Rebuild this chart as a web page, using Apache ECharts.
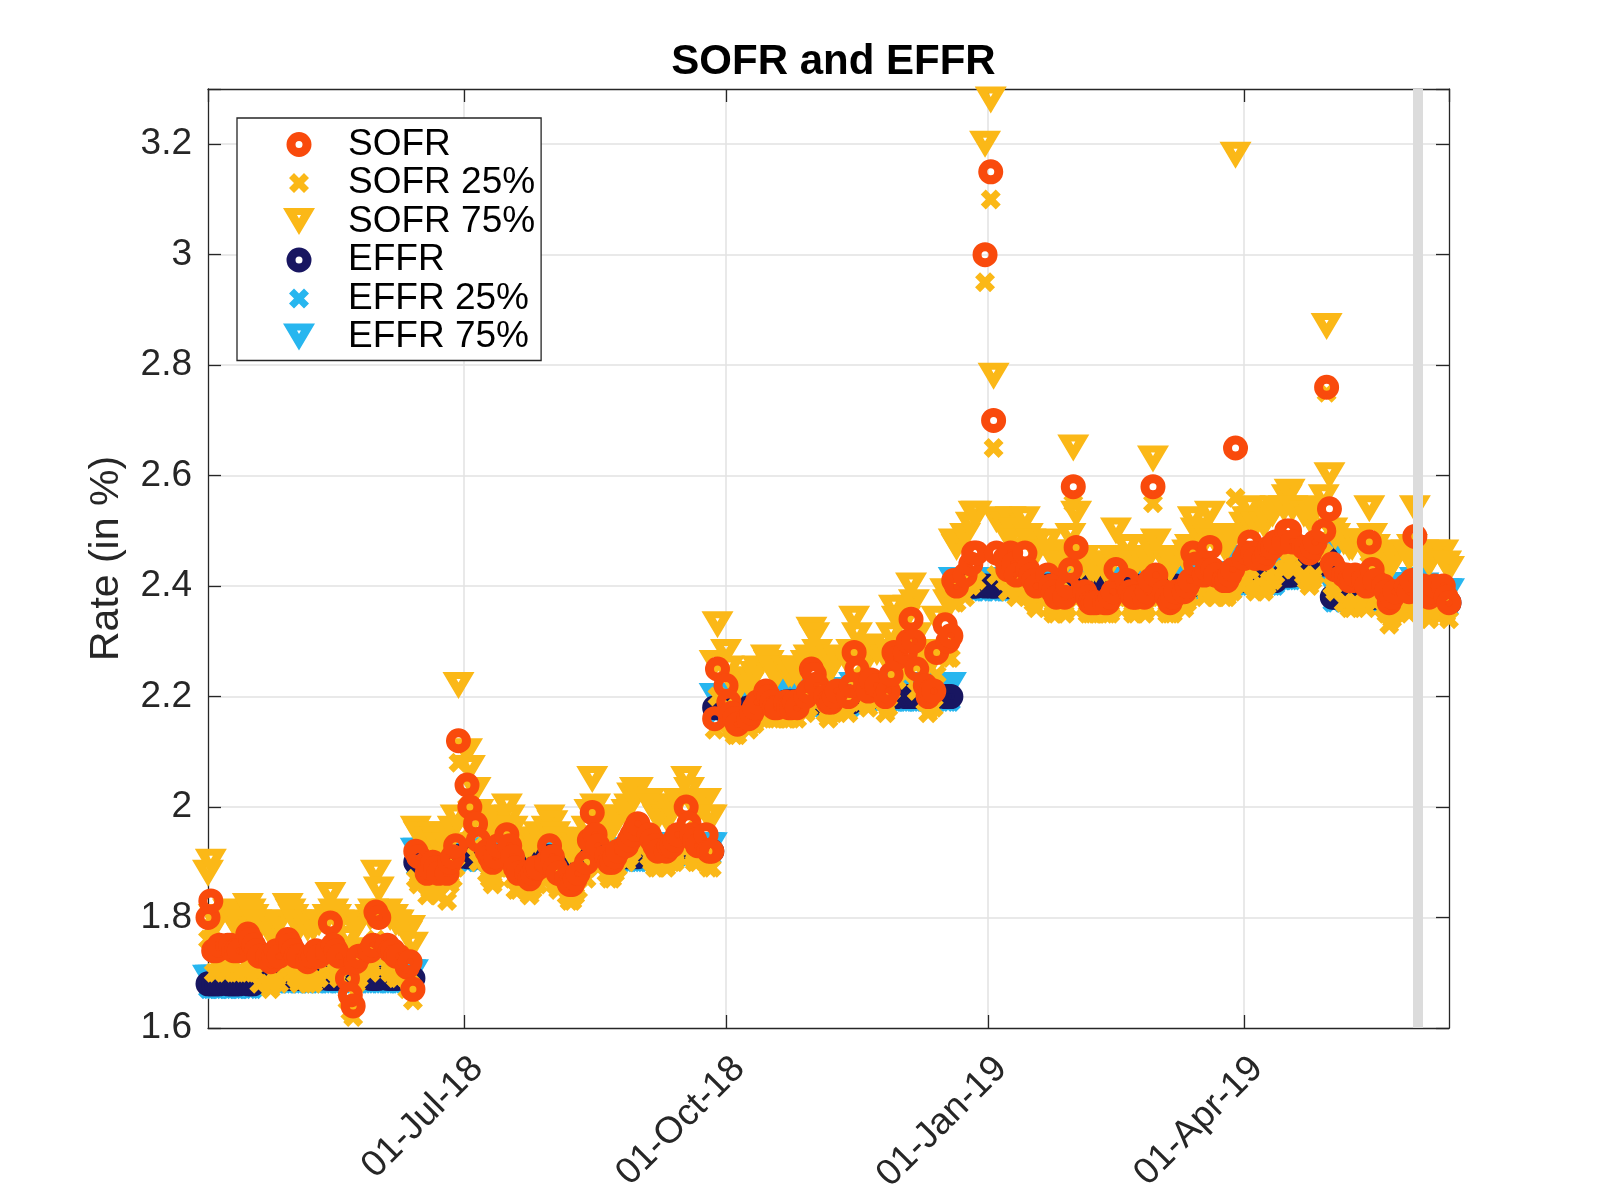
<!DOCTYPE html>
<html>
<head>
<meta charset="utf-8">
<script src="https://cdn.jsdelivr.net/npm/echarts@6/dist/echarts.min.js"></script>
<style>
html,body{margin:0;padding:0;background:#fff;}
#chart{width:1600px;height:1200px;}
</style>
</head>
<body>
<div id="chart"></div>
<script>
// ---- calendar (business days, one block per month) ----
const months = ['2018-04','2018-05','2018-06','2018-07','2018-08','2018-09','2018-10','2018-11','2018-12','2019-01','2019-02','2019-03','2019-04','2019-05','2019-06'];
const firstDate = '2018-04-02';
const lastDate = '2019-06-12';
const holidays = ['2018-05-28','2018-07-04','2018-09-03','2018-10-08','2018-11-12','2018-11-22','2018-12-25','2019-01-01','2019-01-21','2019-02-18','2019-04-19','2019-05-27'];
const markerDate = '2019-06-01';
const tickMonths = ['Jan','Feb','Mar','Apr','May','Jun','Jul','Aug','Sep','Oct','Nov','Dec'];

// ---- series values (percent), one sub-array per month ----
const sofr = [
 [1.80,1.83,1.74,1.74,1.75, 1.75,1.75,1.74,1.74,1.74, 1.77,1.76,1.75,1.74,1.73, 1.73,1.72,1.73,1.74,1.73, 1.76],
 [1.75,1.74,1.73,1.73, 1.72,1.73,1.73,1.74,1.73, 1.74,1.79,1.75,1.74,1.73, 1.69,1.66,1.64,1.72,1.73, 1.74,1.75,1.81],
 [1.80, 1.75,1.74,1.74,1.73,1.73, 1.71,1.72,1.67,1.92,1.91, 1.88,1.89,1.90,1.89,1.88, 1.88,1.90,1.91,1.93,2.12],
 [2.04,2.00,1.97,1.94, 1.92,1.91,1.90,1.91,1.93, 1.95,1.93,1.91,1.89,1.88, 1.88,1.87,1.88,1.89,1.89, 1.90,1.93],
 [1.91,1.89,1.88, 1.87,1.86,1.86,1.87,1.88, 1.90,1.94,1.99,1.95,1.93, 1.91,1.90,1.90,1.91,1.92, 1.93,1.94,1.95,1.96,1.97],
 [1.95,1.94,1.93,1.92, 1.92,1.93,1.93,1.94,1.95, 2.00,1.97,1.95,1.94,1.93, 1.95,1.92,1.92,2.16,2.25],
 [2.22,2.19,2.17,2.16,2.15, 2.16,2.17,2.18,2.19, 2.21,2.20,2.19,2.18,2.18, 2.19,2.18,2.18,2.19,2.18, 2.20,2.21,2.25],
 [2.24,2.22, 2.20,2.19,2.19,2.20,2.21, 2.20,2.22,2.28,2.25, 2.22,2.21,2.23,2.22, 2.20,2.21,2.24,2.28,2.27],
 [2.28,2.30,2.34,2.30,2.25, 2.22,2.20,2.21,2.21,2.28, 2.33,2.30,2.31,2.41,2.40, 2.42,2.44,2.46,2.46, 3.00],
 [3.15,2.70,2.46, 2.45,2.43,2.46,2.44,2.42, 2.46,2.43,2.42,2.41,2.40, 2.42,2.40,2.39,2.38, 2.38,2.40,2.43,2.58],
 [2.47, 2.39,2.38,2.37,2.37,2.37, 2.37,2.37,2.38,2.39,2.43, 2.41,2.39,2.38,2.38, 2.38,2.39,2.41,2.58],
 [2.42, 2.39,2.38,2.37,2.38,2.39, 2.39,2.40,2.41,2.46,2.44, 2.42,2.43,2.47,2.43,2.42, 2.41,2.41,2.42,2.43,2.65],
 [2.45,2.46,2.48,2.46,2.45, 2.45,2.46,2.47,2.47,2.48, 2.48,2.50,2.50,2.48, 2.47,2.47,2.46,2.47,2.48, 2.50,2.76],
 [2.54,2.44,2.43, 2.42,2.42,2.41,2.41,2.42, 2.41,2.40,2.48,2.43,2.41, 2.40,2.39,2.37,2.38,2.39, 2.40,2.39,2.41,2.49],
 [2.40,2.39,2.38,2.39,2.40, 2.40,2.38,2.37]
];
const sofr25 = [
 [1.76,1.78,1.70,1.70,1.71, 1.71,1.71,1.70,1.70,1.70, 1.72,1.71,1.70,1.70,1.68, 1.68,1.67,1.68,1.69,1.68, 1.71],
 [1.71,1.70,1.69,1.68, 1.68,1.69,1.68,1.69,1.69, 1.70,1.74,1.71,1.70,1.69, 1.65,1.63,1.62,1.68,1.69, 1.70,1.71,1.76],
 [1.75, 1.71,1.70,1.70,1.69,1.69, 1.67,1.68,1.65,1.87,1.86, 1.84,1.85,1.86,1.85,1.84, 1.83,1.86,1.87,1.89,2.08],
 [2.00,1.96,1.93,1.90, 1.88,1.87,1.86,1.87,1.89, 1.91,1.89,1.87,1.85,1.85, 1.85,1.84,1.85,1.86,1.86, 1.87,1.89],
 [1.87,1.86,1.85, 1.84,1.83,1.83,1.84,1.85, 1.87,1.90,1.95,1.91,1.89, 1.88,1.87,1.87,1.88,1.89, 1.90,1.91,1.92,1.93,1.93],
 [1.91,1.90,1.89,1.89, 1.89,1.90,1.90,1.90,1.91, 1.96,1.93,1.91,1.90,1.90, 1.91,1.89,1.89,2.14,2.20],
 [2.18,2.15,2.14,2.13,2.13, 2.14,2.15,2.15,2.16, 2.18,2.17,2.16,2.16,2.16, 2.16,2.16,2.16,2.17,2.16, 2.17,2.18,2.21],
 [2.21,2.19, 2.17,2.16,2.17,2.17,2.18, 2.17,2.19,2.24,2.22, 2.19,2.18,2.20,2.19, 2.17,2.18,2.21,2.24,2.23],
 [2.24,2.26,2.30,2.26,2.21, 2.19,2.17,2.18,2.18,2.24, 2.29,2.27,2.27,2.37,2.37, 2.38,2.40,2.41,2.41, 2.95],
 [3.10,2.65,2.42, 2.41,2.39,2.42,2.40,2.38, 2.41,2.39,2.38,2.37,2.36, 2.38,2.36,2.35,2.35, 2.35,2.36,2.39,2.55],
 [2.43, 2.36,2.35,2.35,2.35,2.35, 2.35,2.35,2.35,2.36,2.39, 2.38,2.36,2.35,2.35, 2.35,2.36,2.38,2.55],
 [2.39, 2.36,2.35,2.35,2.35,2.36, 2.36,2.37,2.38,2.42,2.40, 2.38,2.39,2.43,2.39,2.38, 2.38,2.38,2.39,2.39,2.56],
 [2.40,2.41,2.43,2.40,2.39, 2.39,2.40,2.41,2.41,2.42, 2.43,2.45,2.46,2.43, 2.42,2.41,2.40,2.41,2.42, 2.46,2.75],
 [2.50,2.40,2.39, 2.37,2.37,2.36,2.36,2.37, 2.37,2.36,2.44,2.39,2.37, 2.36,2.35,2.33,2.34,2.35, 2.36,2.35,2.37,2.45],
 [2.36,2.35,2.34,2.35,2.36, 2.36,2.35,2.34]
];
const sofr75 = [
 [1.88,1.90,1.80,1.79,1.80, 1.81,1.80,1.79,1.79,1.79, 1.82,1.81,1.80,1.79,1.78, 1.78,1.77,1.78,1.79,1.79, 1.82],
 [1.81,1.80,1.79,1.78, 1.78,1.79,1.78,1.79,1.79, 1.80,1.84,1.81,1.80,1.79, 1.76,1.74,1.73,1.78,1.79, 1.80,1.81,1.88],
 [1.85, 1.81,1.80,1.80,1.79,1.79, 1.77,1.78,1.75,1.96,1.95, 1.93,1.94,1.95,1.94,1.93, 1.93,1.95,1.96,1.98,2.22],
 [2.10,2.07,2.03,1.99, 1.97,1.96,1.95,1.96,1.98, 2.00,1.98,1.96,1.94,1.93, 1.93,1.93,1.94,1.94,1.95, 1.96,1.98],
 [1.97,1.95,1.94, 1.93,1.92,1.92,1.93,1.94, 1.96,1.99,2.05,2.00,1.98, 1.97,1.96,1.96,1.97,1.98, 1.99,2.00,2.02,2.03,2.03],
 [2.01,2.00,1.99,1.98, 1.98,1.99,1.99,2.00,2.01, 2.05,2.03,2.01,2.00,1.99, 2.01,1.98,1.98,2.26,2.33],
 [2.28,2.25,2.23,2.22,2.21, 2.22,2.23,2.24,2.25, 2.27,2.26,2.25,2.24,2.24, 2.25,2.24,2.24,2.25,2.24, 2.26,2.27,2.32],
 [2.31,2.28, 2.26,2.25,2.25,2.26,2.27, 2.26,2.28,2.34,2.31, 2.28,2.27,2.29,2.28, 2.27,2.28,2.31,2.36,2.34],
 [2.34,2.36,2.40,2.37,2.31, 2.28,2.26,2.27,2.27,2.34, 2.39,2.37,2.37,2.48,2.47, 2.49,2.51,2.53,2.53, 3.20],
 [3.28,2.78,2.52, 2.51,2.49,2.52,2.50,2.48, 2.52,2.49,2.48,2.47,2.46, 2.48,2.46,2.45,2.44, 2.44,2.46,2.49,2.65],
 [2.53, 2.45,2.44,2.43,2.43,2.43, 2.43,2.43,2.44,2.45,2.50, 2.47,2.45,2.44,2.44, 2.44,2.45,2.47,2.63],
 [2.48, 2.45,2.44,2.43,2.44,2.45, 2.45,2.46,2.47,2.52,2.50, 2.48,2.49,2.53,2.49,2.48, 2.47,2.47,2.48,2.49,3.18],
 [2.51,2.52,2.54,2.52,2.51, 2.51,2.52,2.53,2.53,2.54, 2.54,2.56,2.57,2.54, 2.53,2.53,2.52,2.53,2.54, 2.56,2.87],
 [2.60,2.50,2.49, 2.48,2.48,2.47,2.47,2.48, 2.47,2.46,2.54,2.49,2.47, 2.46,2.45,2.43,2.44,2.45, 2.46,2.45,2.47,2.54],
 [2.46,2.45,2.44,2.45,2.46, 2.46,2.44,2.43]
];
const effr = [
 [1.68,1.68,1.68,1.68,1.68, 1.68,1.68,1.68,1.68,1.68, 1.68,1.68,1.68,1.69,1.69, 1.69,1.69,1.69,1.69,1.69, 1.69],
 [1.69,1.69,1.69,1.69, 1.69,1.69,1.69,1.69,1.69, 1.69,1.69,1.69,1.69,1.69, 1.69,1.69,1.69,1.69,1.69, 1.69,1.69,1.69],
 [1.69, 1.69,1.69,1.69,1.69,1.69, 1.69,1.69,1.69,1.90,1.90, 1.91,1.91,1.91,1.91,1.91, 1.91,1.91,1.91,1.91,1.91],
 [1.91,1.91,1.91,1.91, 1.91,1.91,1.91,1.91,1.91, 1.91,1.91,1.91,1.91,1.91, 1.91,1.91,1.91,1.91,1.91, 1.91,1.91],
 [1.91,1.91,1.91, 1.91,1.91,1.91,1.91,1.91, 1.91,1.91,1.91,1.91,1.91, 1.91,1.91,1.91,1.91,1.91, 1.91,1.91,1.91,1.91,1.91],
 [1.91,1.91,1.91,1.91, 1.91,1.92,1.92,1.92,1.92, 1.92,1.92,1.92,1.92,1.92, 1.92,1.92,1.92,2.18,2.18],
 [2.18,2.18,2.18,2.18,2.18, 2.18,2.18,2.18,2.18, 2.18,2.18,2.18,2.18,2.18, 2.19,2.19,2.19,2.19,2.19, 2.19,2.19,2.19],
 [2.19,2.19, 2.19,2.19,2.19,2.19,2.19, 2.19,2.19,2.20,2.20, 2.20,2.20,2.20,2.20, 2.20,2.20,2.20,2.20,2.20],
 [2.20,2.20,2.20,2.20,2.20, 2.20,2.20,2.20,2.20,2.20, 2.20,2.20,2.20,2.40,2.40, 2.40,2.40,2.40,2.40, 2.40],
 [2.40,2.40,2.40, 2.40,2.40,2.40,2.40,2.40, 2.40,2.40,2.40,2.40,2.40, 2.40,2.40,2.40,2.40, 2.40,2.40,2.40,2.40],
 [2.40, 2.40,2.40,2.40,2.40,2.40, 2.40,2.40,2.40,2.40,2.40, 2.40,2.40,2.40,2.40, 2.40,2.40,2.40,2.40],
 [2.40, 2.40,2.40,2.40,2.40,2.40, 2.40,2.40,2.40,2.41,2.41, 2.41,2.41,2.41,2.41,2.41, 2.41,2.41,2.41,2.41,2.43],
 [2.42,2.41,2.41,2.41,2.41, 2.41,2.41,2.41,2.41,2.41, 2.42,2.42,2.42,2.42, 2.43,2.43,2.43,2.44,2.44, 2.44,2.45],
 [2.44,2.38,2.38, 2.38,2.38,2.38,2.38,2.38, 2.38,2.38,2.38,2.38,2.38, 2.38,2.38,2.38,2.38,2.38, 2.38,2.38,2.38,2.39],
 [2.38,2.38,2.37,2.37,2.37, 2.37,2.37,2.37]
];
const effr25 = [
 [1.67,1.67,1.67,1.67,1.67, 1.67,1.67,1.67,1.67,1.67, 1.67,1.67,1.67,1.68,1.68, 1.68,1.68,1.68,1.68,1.68, 1.68],
 [1.68,1.68,1.68,1.68, 1.68,1.68,1.68,1.68,1.68, 1.68,1.68,1.68,1.68,1.68, 1.68,1.68,1.68,1.68,1.68, 1.68,1.68,1.68],
 [1.68, 1.68,1.68,1.68,1.68,1.68, 1.68,1.68,1.68,1.89,1.89, 1.90,1.90,1.90,1.90,1.90, 1.90,1.90,1.90,1.90,1.90],
 [1.90,1.90,1.90,1.90, 1.90,1.90,1.90,1.90,1.90, 1.90,1.90,1.90,1.90,1.90, 1.90,1.90,1.90,1.90,1.90, 1.90,1.90],
 [1.90,1.90,1.90, 1.90,1.90,1.90,1.90,1.90, 1.90,1.90,1.90,1.90,1.90, 1.90,1.90,1.90,1.90,1.90, 1.90,1.90,1.90,1.90,1.90],
 [1.90,1.90,1.90,1.90, 1.90,1.91,1.91,1.91,1.91, 1.91,1.91,1.91,1.91,1.91, 1.91,1.91,1.91,2.17,2.17],
 [2.17,2.17,2.17,2.17,2.17, 2.17,2.17,2.17,2.17, 2.17,2.17,2.17,2.17,2.17, 2.18,2.18,2.18,2.18,2.18, 2.18,2.18,2.18],
 [2.18,2.18, 2.18,2.18,2.18,2.18,2.18, 2.18,2.18,2.19,2.19, 2.19,2.19,2.19,2.19, 2.19,2.19,2.19,2.19,2.19],
 [2.19,2.19,2.19,2.19,2.19, 2.19,2.19,2.19,2.19,2.19, 2.19,2.19,2.19,2.39,2.39, 2.39,2.39,2.39,2.39, 2.39],
 [2.39,2.39,2.39, 2.39,2.39,2.39,2.39,2.39, 2.39,2.39,2.39,2.39,2.39, 2.39,2.39,2.39,2.39, 2.39,2.39,2.39,2.39],
 [2.39, 2.39,2.39,2.39,2.39,2.39, 2.39,2.39,2.39,2.39,2.39, 2.39,2.39,2.39,2.39, 2.39,2.39,2.39,2.39],
 [2.39, 2.39,2.39,2.39,2.39,2.39, 2.39,2.39,2.39,2.40,2.40, 2.40,2.40,2.40,2.40,2.40, 2.40,2.40,2.40,2.40,2.41],
 [2.40,2.40,2.40,2.40,2.40, 2.40,2.40,2.40,2.40,2.40, 2.41,2.41,2.41,2.41, 2.42,2.42,2.42,2.43,2.43, 2.43,2.43],
 [2.43,2.37,2.37, 2.37,2.37,2.37,2.37,2.37, 2.37,2.37,2.37,2.37,2.37, 2.37,2.37,2.37,2.37,2.37, 2.37,2.37,2.37,2.38],
 [2.37,2.37,2.36,2.36,2.36, 2.36,2.36,2.36]
];
const effr75 = [
 [1.69,1.69,1.69,1.69,1.69, 1.69,1.69,1.69,1.69,1.69, 1.69,1.69,1.69,1.70,1.70, 1.70,1.70,1.70,1.70,1.70, 1.70],
 [1.70,1.70,1.70,1.70, 1.70,1.70,1.70,1.70,1.70, 1.70,1.70,1.70,1.70,1.70, 1.70,1.70,1.70,1.70,1.70, 1.70,1.70,1.70],
 [1.70, 1.70,1.70,1.70,1.70,1.70, 1.70,1.70,1.70,1.92,1.92, 1.92,1.92,1.92,1.92,1.92, 1.92,1.92,1.92,1.92,1.92],
 [1.92,1.92,1.92,1.92, 1.92,1.92,1.92,1.92,1.92, 1.92,1.92,1.92,1.92,1.92, 1.92,1.92,1.92,1.92,1.92, 1.92,1.92],
 [1.92,1.92,1.92, 1.92,1.92,1.92,1.92,1.92, 1.92,1.92,1.92,1.92,1.92, 1.92,1.92,1.92,1.92,1.92, 1.92,1.92,1.92,1.92,1.92],
 [1.92,1.92,1.92,1.92, 1.92,1.93,1.93,1.93,1.93, 1.93,1.93,1.93,1.93,1.93, 1.93,1.93,1.93,2.20,2.20],
 [2.20,2.20,2.20,2.20,2.20, 2.20,2.20,2.20,2.20, 2.20,2.20,2.20,2.20,2.20, 2.21,2.21,2.21,2.21,2.21, 2.21,2.21,2.21],
 [2.21,2.21, 2.21,2.21,2.21,2.21,2.21, 2.21,2.21,2.22,2.22, 2.22,2.22,2.22,2.22, 2.22,2.22,2.22,2.22,2.22],
 [2.22,2.22,2.22,2.22,2.22, 2.22,2.22,2.22,2.22,2.22, 2.22,2.22,2.22,2.41,2.41, 2.41,2.41,2.41,2.41, 2.41],
 [2.41,2.41,2.41, 2.41,2.41,2.41,2.41,2.41, 2.41,2.41,2.41,2.41,2.41, 2.41,2.41,2.41,2.41, 2.41,2.41,2.41,2.41],
 [2.41, 2.41,2.41,2.41,2.41,2.41, 2.41,2.41,2.41,2.41,2.41, 2.41,2.41,2.41,2.41, 2.41,2.41,2.41,2.41],
 [2.41, 2.41,2.41,2.41,2.41,2.41, 2.41,2.41,2.41,2.42,2.42, 2.42,2.42,2.42,2.42,2.42, 2.42,2.42,2.42,2.42,2.45],
 [2.43,2.42,2.42,2.42,2.42, 2.42,2.42,2.42,2.42,2.42, 2.43,2.43,2.43,2.43, 2.44,2.44,2.44,2.45,2.45, 2.45,2.47],
 [2.45,2.40,2.39, 2.39,2.39,2.39,2.39,2.39, 2.39,2.39,2.39,2.39,2.39, 2.40,2.40,2.40,2.40,2.40, 2.40,2.40,2.40,2.41],
 [2.40,2.39,2.39,2.39,2.39, 2.39,2.39,2.39]
];

// ---- helpers ----
function businessDays(ym) {
  const parts = ym.split('-').map(Number);
  const out = [];
  for (let d = 1; d <= 31; d++) {
    const dt = new Date(Date.UTC(parts[0], parts[1] - 1, d));
    if (dt.getUTCMonth() !== parts[1] - 1) break;
    const s = dt.toISOString().slice(0, 10);
    if (s < firstDate || s > lastDate) continue;
    const wd = dt.getUTCDay();
    if (wd === 0 || wd === 6) continue;
    if (holidays.indexOf(s) >= 0) continue;
    out.push(s);
  }
  return out;
}
function pairs(values) {
  const out = [];
  months.forEach(function (m, i) {
    const ds = businessDays(m);
    const vs = values[i] || [];
    if (ds.length !== vs.length) console.warn('length mismatch', m, ds.length, vs.length);
    ds.forEach(function (d, j) { if (vs[j] != null) out.push([d, vs[j]]); });
  });
  return out;
}
function fmtDate(v) {
  const d = new Date(v);
  return String(d.getDate()).padStart(2, '0') + '-' + tickMonths[d.getMonth()] + '-' + String(d.getFullYear()).slice(2);
}

// ---- styles ----
const FONT = '"Liberation Sans", Arial, Helvetica, sans-serif';
const AX = '#262626';
const C_SOFR = '#f94a0c', C_YEL = '#fbb817', C_EFFR = '#181661', C_BLUE = '#27b6ef';
const RING = 'path://M-3.5,-1L-3.5,-1ZM28.5,26L28.5,26ZM0,12.5A12.5,12.5 0 1,1 25,12.5A12.5,12.5 0 1,1 0,12.5ZM9,12.5A3.5,3.5 0 1,0 16,12.5A3.5,3.5 0 1,0 9,12.5Z';
const TRI = 'path://M0,0L32,0L16,27ZM14,7L16,10.5L18,7Z';
const CROSS = 'path://M-6,-3.5L-6,-3.5ZM26,23.5L26,23.5ZM5,0L10,5L15,0L20,5L15,10L20,15L15,20L10,15L5,20L0,15L5,10L0,5Z';

function sc(name, sym, color, vals, z) {
  return {
    type: 'scatter', name: name, data: pairs(vals), symbol: sym, symbolSize: [32, 27],
    itemStyle: { color: color, opacity: 1, borderWidth: 0 }, z: z, clip: false,
    emphasis: { disabled: true }, animation: false
  };
}

const chart = echarts.init(document.getElementById('chart'), null, { renderer: 'canvas' });
const DAY = 86400000;
const option = {
  backgroundColor: '#ffffff',
  animation: false,
  title: {
    text: 'SOFR and EFFR', left: 828.5, textAlign: 'center', top: 36,
    textStyle: { fontSize: 42, fontWeight: 'bold', color: '#000', fontFamily: FONT }
  },
  grid: { left: 208, right: 151, top: 89, bottom: 172, show: false, containLabel: false },
  legend: {
    orient: 'vertical', left: 237, top: 118,
    padding: [8, 6, 5, 46],
    itemWidth: 32, itemHeight: 27, itemGap: 1.5,
    backgroundColor: '#ffffff', borderColor: AX, borderWidth: 1.3,
    selectedMode: false,
    textStyle: { fontSize: 37, fontFamily: FONT, color: '#000', padding: [0, 0, 0, 28], lineHeight: 37 },
    data: [
      { name: 'SOFR', icon: RING },
      { name: 'SOFR 25%', icon: CROSS },
      { name: 'SOFR 75%', icon: TRI },
      { name: 'EFFR', icon: RING },
      { name: 'EFFR 25%', icon: CROSS },
      { name: 'EFFR 75%', icon: TRI }
    ],
    z: 30
  },
  xAxis: [{
    type: 'time', min: firstDate, max: lastDate, splitNumber: 4,
    minInterval: 95 * DAY, maxInterval: 150 * DAY,
    axisLine: { show: true, onZero: false, lineStyle: { color: AX, width: 1.3 } },
    axisTick: { show: true, inside: true, length: 13, lineStyle: { color: AX, width: 1.3 } },
    axisLabel: { rotate: 45, fontSize: 37, color: AX, margin: 22, verticalAlign: 'top', fontFamily: FONT, formatter: fmtDate, showMinLabel: false, showMaxLabel: false },
    splitLine: { show: true, showMinLine: false, showMaxLine: false, lineStyle: { color: '#e2e2e2', width: 1.5 } }
  }, {
    type: 'time', position: 'top', min: firstDate, max: lastDate, splitNumber: 4,
    minInterval: 95 * DAY, maxInterval: 150 * DAY,
    axisLine: { show: true, onZero: false, lineStyle: { color: AX, width: 1.3 } },
    axisTick: { show: true, inside: true, length: 13, lineStyle: { color: AX, width: 1.3 } },
    axisLabel: { show: false },
    splitLine: { show: false }
  }],
  yAxis: [{
    type: 'value', min: 1.6, max: 3.3, interval: 0.2,
    name: 'Rate (in %)', nameLocation: 'middle', nameGap: 81,
    nameTextStyle: { fontSize: 41, color: AX, fontFamily: FONT },
    axisLine: { show: true, onZero: false, lineStyle: { color: AX, width: 1.3 } },
    axisTick: { show: true, inside: true, length: 13, lineStyle: { color: AX, width: 1.3 } },
    axisLabel: { fontSize: 37, color: AX, margin: 16, fontFamily: FONT,
      formatter: function (v) { return v > 3.25 ? '' : String(+v.toFixed(1)); } },
    splitLine: { show: true, showMinLine: false, showMaxLine: false, lineStyle: { color: '#e2e2e2', width: 1.5 } }
  }, {
    type: 'value', position: 'right', min: 1.6, max: 3.3, interval: 0.2,
    axisLine: { show: true, onZero: false, lineStyle: { color: AX, width: 1.3 } },
    axisTick: { show: true, inside: true, length: 13, lineStyle: { color: AX, width: 1.3 } },
    axisLabel: { show: false },
    splitLine: { show: false }
  }],
  series: [
    sc('EFFR 75%', TRI, C_BLUE, effr75, 2),
    sc('EFFR 25%', CROSS, C_BLUE, effr25, 3),
    sc('EFFR', RING, C_EFFR, effr, 4),
    sc('SOFR 75%', TRI, C_YEL, sofr75, 5),
    sc('SOFR 25%', CROSS, C_YEL, sofr25, 6),
    sc('SOFR', RING, C_SOFR, sofr, 7),
    {
      type: 'scatter', name: 'marker', data: [], z: 20, silent: true,
      markLine: {
        silent: true, z: 20, symbol: ['none', 'none'], animation: false,
        label: { show: false },
        lineStyle: { color: '#dcdcdc', width: 10, type: 'solid', opacity: 1 },
        emphasis: { disabled: true },
        data: [{ xAxis: markerDate }]
      }
    }
  ]
};
chart.setOption(option);
</script>
</body>
</html>
